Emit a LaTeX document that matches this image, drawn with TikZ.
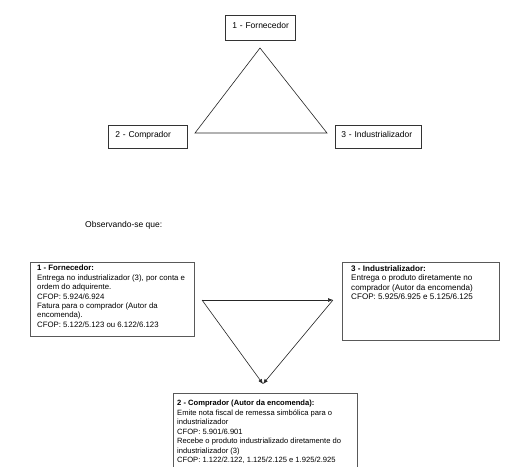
\documentclass[tikz,border=0pt]{standalone}
\usepackage{fontspec}
\setmainfont{Liberation Sans}
\usetikzlibrary{arrows.meta}
\begin{document}
\begin{tikzpicture}[x=1pt,y=-1pt,
  every node/.style={font=\fontsize{7.8}{9.4}\selectfont},
  topbox/.style={draw=black!80, line width=0.6pt, anchor=north west, align=left,
    font=\fontsize{8.5}{10}\selectfont, text height=6pt, text depth=5pt},
  frame/.style={draw=black!65, line width=0.8pt, inner sep=0pt, anchor=north west},
  body/.style={anchor=north west, inner sep=0pt, align=left},
  conn/.style={draw=black!85, line width=0.6pt},
  arr/.style={conn, -{Latex[length=5pt,width=4pt]}}]
\fill[white] (0,0) rectangle (508,466);
\useasboundingbox (0,0) rectangle (508,466);
\clip (0,0) rectangle (508,466);
% top diagram
\node[topbox, text width=56pt, inner xsep=7pt, minimum height=25pt] (forn) at (225,15) {\mbox{1 - Fornecedor}};
\node[topbox, text width=65pt, inner xsep=7pt, minimum height=23pt] (comp) at (108,125) {\mbox{2 - Comprador}};
\node[topbox, text width=74pt, inner xsep=6pt, minimum height=23pt] (ind) at (335,125) {\mbox{3 - Industrializador}};
\coordinate (t1) at (260,48);
\coordinate (t2) at (195,133);
\coordinate (t3) at (327,133);
\draw[conn] (t1) -- (t2) -- (t3) -- cycle;
% caption
\node[anchor=west, inner sep=0pt, font=\fontsize{8.5}{10}\selectfont] (obs) at (85,225) {Observando-se que:};
% lower boxes
\node[frame, minimum width=164pt, minimum height=74pt] (b1) at (30,262) {};
\node[body] (b1t) at ([shift={(7,3)}]b1.north west) {\textbf{1 - Fornecedor:}\\
Entrega no industrializador (3), por conta e\\
ordem do adquirente.\\
CFOP: 5.924/6.924\\
Fatura para o comprador (Autor da\\
encomenda).\\
CFOP: 5.122/5.123 ou 6.122/6.123};
\node[frame, minimum width=157pt, minimum height=78pt] (b3) at (342,262) {};
\node[body, font=\fontsize{8.1}{9.5}\selectfont] (b3t) at ([shift={(9,3)}]b3.north west) {\textbf{3 - Industrializador:}\\
Entrega o produto diretamente no\\
comprador (Autor da encomenda)\\
CFOP: 5.925/6.925 e 5.125/6.125};
\node[frame, minimum width=184pt, minimum height=100pt] (b2) at (173,393) {};
\node[body, font=\fontsize{7.6}{9.5}\selectfont] (b2t) at ([shift={(4,7)}]b2.north west) {\textbf{2 - Comprador (Autor da encomenda):}\\
Emite nota fiscal de remessa simbólica para o\\
industrializador\\
CFOP: 5.901/6.901\\
Recebe o produto industrializado diretamente do\\
industrializador (3)\\
CFOP: 1.122/2.122, 1.125/2.125 e 1.925/2.925};
% lower connectors
\coordinate (p1) at (202,300);
\coordinate (p2) at (333,300);
\coordinate (p3) at (263,384);
\draw[arr] (p1) -- (p2);
\draw[arr] (p1) -- (p3);
\draw[arr] (p2) -- (p3);
\end{tikzpicture}
\end{document}
